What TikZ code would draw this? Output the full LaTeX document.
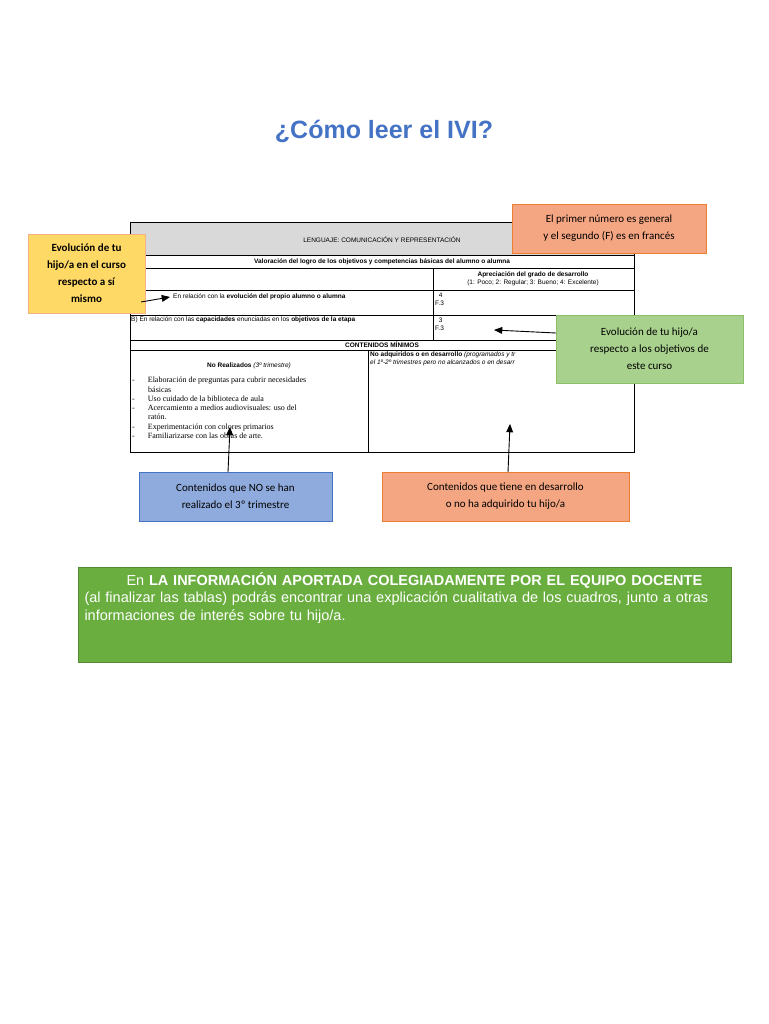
\documentclass[tikz,border=0pt]{standalone}
\usepackage{fontspec}
\setmainfont{Liberation Sans}
\newfontfamily\calib{Carlito}
\newfontfamily\tnr{Liberation Serif}
\usetikzlibrary{positioning}
\usetikzlibrary{arrows}
\definecolor{titleblue}{HTML}{4472C4}
\definecolor{hdrgray}{HTML}{D9D9D9}
\definecolor{callyellow}{HTML}{FFD966}
\definecolor{callyellowb}{HTML}{F4B183}
\definecolor{callorange}{HTML}{F4A582}
\definecolor{callorangeb}{HTML}{ED7D31}
\definecolor{callgreen}{HTML}{A9D18E}
\definecolor{callgreenb}{HTML}{8CBF6A}
\definecolor{callblue}{HTML}{8FAADC}
\definecolor{callblueb}{HTML}{4472C4}
\definecolor{infogreen}{HTML}{6AAE3F}
\tikzstyle{every callout} = [inner sep=2pt, align=center]
\tikzstyle{callout} = [draw, font=\calib\fontsize{11}{17}\selectfont, every callout]
\tikzstyle{cell} = [font=\fontsize{6.5}{8}\selectfont, inner sep=1pt]
\tikzstyle{pointer} = [->, >=triangle 45, line width=0.9pt]

\begin{document}
\begin{tikzpicture}[x=1pt,y=-1pt]
        \useasboundingbox (0,0) rectangle (768,1024);
        \fill[white] (0,0) rectangle (768,1024);

        \node[font=\bfseries\fontsize{25}{30}\selectfont, text=titleblue] (title) at (384,131) {¿Cómo leer el IVI?};

        % table
        \fill[hdrgray] (130,222) rectangle (634,255);
        \draw[line width=0.5pt] (130,222) rectangle (634,452);
        \draw[line width=0.4pt] (130,255) -- (634,255);
        \draw[line width=0.4pt] (130,268) -- (634,268);
        \draw[line width=0.4pt] (130,290) -- (634,290);
        \draw[line width=0.4pt] (130,315) -- (634,315);
        \draw[line width=0.4pt] (130,340) -- (634,340);
        \draw[line width=0.4pt] (130,350) -- (634,350);
        \draw[line width=0.4pt] (433,268) -- (433,340);
        \draw[line width=0.4pt] (368,350) -- (368,452);

        \node[cell] (lenguaje) at (382,240) {LENGUAJE: COMUNICACIÓN Y REPRESENTACIÓN};
        \node[cell] (valoracion) at (382,262) {\bfseries Valoración del logro de los objetivos y competencias básicas del alumno o alumna};
        \node[cell, align=center] (apreciacion) at (533,279) {\bfseries Apreciación del grado de desarrollo\\(1: Poco; 2: Regular; 3: Bueno; 4: Excelente)};
        \node[cell, anchor=west] (filaA) at (172,297) {En relación con la \textbf{evolución del propio alumno o alumna}};
        \node[cell, anchor=north west, align=left] (notaA) at (434,292) {\ \ 4\\F.3};
        \node[cell, anchor=west] (filaB) at (130,320) {B) En relación con las \textbf{capacidades} enunciadas en los \textbf{objetivos de la etapa}};
        \node[cell, anchor=north west, align=left] (notaB) at (434,317) {\ \ 3\\F.3};
        \node[cell] (minimos) at (382,345) {\bfseries CONTENIDOS MÍNIMOS};
        \node[cell] (norealizados) at (249,366) {\bfseries No Realizados \mdseries\itshape (3º trimestre)};
        \node[cell, anchor=north west, align=left] (noadquiridos) at (369,351) {\textbf{No adquiridos o en desarrollo} \itshape (programados y tr\\\itshape el 1º-2º trimestres pero no alcanzados o en desarr};
        \node[anchor=north west, align=left, inner sep=1pt, font=\tnr\fontsize{8}{9.3}\selectfont] (lista) at (131,376) {%
            -\hspace{13pt}Elaboración de preguntas para cubrir necesidades\\
            \hspace{16pt}básicas\\
            -\hspace{13pt}Uso cuidado de la biblioteca de aula\\
            -\hspace{13pt}Acercamiento a medios audiovisuales: uso del\\
            \hspace{16pt}ratón.\\
            -\hspace{13pt}Experimentación con colores primarios\\
            -\hspace{13pt}Familiarizarse con las obras de arte.};

        % callouts
        \node[callout, fill=callyellow, draw=callyellowb, minimum width=117pt, minimum height=79pt, font=\calib\bfseries\fontsize{11}{17}\selectfont] (evolucion) at (86.5,273.5) {Evolución de tu\\hijo/a en el curso\\respecto a sí\\mismo};
        \node[callout, fill=callorange, draw=callorangeb, minimum width=194pt, minimum height=49pt] (primer) at (609,228.5) {El primer número es general\\y el segundo (F) es en francés};
        \node[callout, fill=callgreen, draw=callgreenb, minimum width=187pt, minimum height=68pt] (objetivos) at (649.5,349) {Evolución de tu hijo/a\\respecto a los objetivos de\\este curso};
        \node[callout, fill=callblue, draw=callblueb, minimum width=193pt, minimum height=49pt] (noseham) at (235.5,496.5) {Contenidos que NO se han\\realizado el 3º trimestre};
        \node[callout, fill=callorange, draw=callorangeb, minimum width=247pt, minimum height=49pt] (desarrollo) at (505.5,496.5) {Contenidos que tiene en desarrollo\\o no ha adquirido tu hijo/a};

        \draw[pointer] (141,302) -- (170,297);
        \draw[pointer] (objetivos.west |- 0,333) -- (494,330);
        \draw[pointer] (228,472) -- (230,427);
        \draw[pointer] (508,472) -- (510,424);

        % info
        \node[fill=infogreen, draw=infogreen!80!black, minimum width=653pt, minimum height=95pt, inner sep=0pt] (info) at (404.5,614.5) {};
        \node[anchor=north, text width=640pt, text=white, inner sep=0pt, font=\fontsize{14.5}{17.5}\selectfont] (infotexto) at (404.5,572) {\parindent=42pt\indent En \textbf{LA INFORMACIÓN APORTADA COLEGIADAMENTE POR EL EQUIPO DOCENTE} (al finalizar las tablas) podrás encontrar una explicación cualitativa de los cuadros, junto a otras informaciones de interés sobre tu hijo/a.};
\end{tikzpicture}
\end{document}
